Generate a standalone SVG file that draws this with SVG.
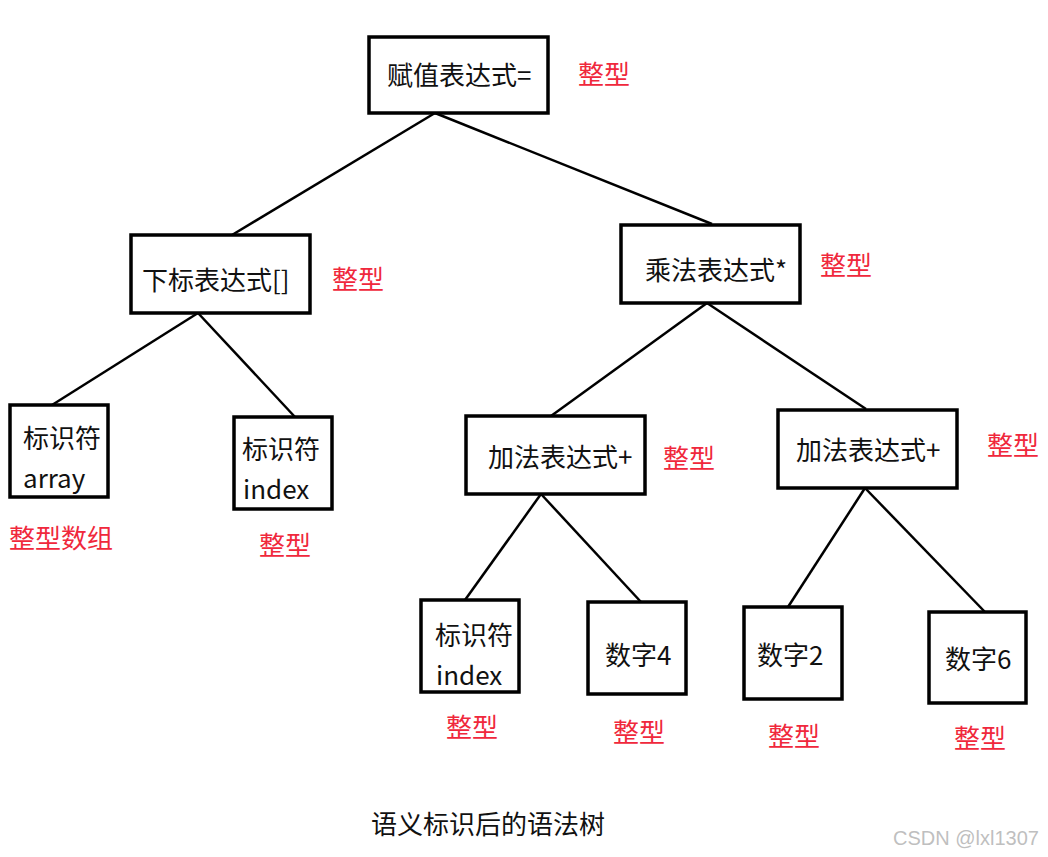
<svg xmlns="http://www.w3.org/2000/svg" width="1048" height="857" viewBox="0 0 1048 857">
<style>
.box{fill:#fff;stroke:#000;stroke-width:3.5}
.t{font-family:"Noto Sans CJK SC","Noto Sans",sans-serif;font-size:26px;fill:#111}
.r{font-family:"Noto Sans CJK SC","Noto Sans",sans-serif;font-size:26px;fill:#f0283c}
.c{stroke:#000;stroke-width:2.5;fill:none}
.w{font-family:"Liberation Sans",sans-serif;font-size:20px;fill:#bfbfbf}
</style>
<rect width="1048" height="857" fill="#fff"/>
<g id="connectors">
<line class="c" x1="435" y1="113" x2="232" y2="235"/>
<line class="c" x1="435" y1="113" x2="712" y2="224"/>
<line class="c" x1="198" y1="313" x2="52" y2="405"/>
<line class="c" x1="198" y1="313" x2="295" y2="417"/>
<line class="c" x1="707" y1="303" x2="551" y2="416"/>
<line class="c" x1="707" y1="303" x2="866" y2="409"/>
<line class="c" x1="541" y1="494" x2="465" y2="600"/>
<line class="c" x1="541" y1="494" x2="641" y2="602"/>
<line class="c" x1="865" y1="488" x2="788" y2="607"/>
<line class="c" x1="865" y1="488" x2="985" y2="612"/>
</g>
<g id="n-root"><rect class="box" x="369" y="37" width="179" height="76"/><text class="t" x="387" y="85">赋值表达式=</text><text class="r" x="578" y="84">整型</text></g>
<g id="n-sub"><rect class="box" x="131" y="235" width="179" height="78"/><text class="t" x="142" y="290">下标表达式[]</text><text class="r" x="332" y="289">整型</text></g>
<g id="n-mul"><rect class="box" x="621" y="225" width="179" height="78"/><text class="t" x="645" y="280">乘法表达式*</text><text class="r" x="820" y="275">整型</text></g>
<g id="n-array"><rect class="box" x="10" y="405" width="98" height="92"/><text class="t" x="23" y="448">标识符</text><text class="t" x="23" y="488">array</text><text class="r" x="9" y="548">整型数组</text></g>
<g id="n-index1"><rect class="box" x="234" y="417" width="98" height="92"/><text class="t" x="242" y="459">标识符</text><text class="t" x="243" y="499">index</text><text class="r" x="259" y="555">整型</text></g>
<g id="n-add1"><rect class="box" x="466" y="416" width="179" height="78"/><text class="t" x="488" y="467">加法表达式+</text><text class="r" x="663" y="468">整型</text></g>
<g id="n-add2"><rect class="box" x="778" y="410" width="179" height="78"/><text class="t" x="796" y="460">加法表达式+</text><text class="r" x="987" y="455">整型</text></g>
<g id="n-index2"><rect class="box" x="421" y="600" width="98" height="92"/><text class="t" x="435" y="645">标识符</text><text class="t" x="436" y="685">index</text><text class="r" x="446" y="737">整型</text></g>
<g id="n-4"><rect class="box" x="588" y="602" width="98" height="92"/><text class="t" x="605" y="665">数字4</text><text class="r" x="613" y="742">整型</text></g>
<g id="n-2"><rect class="box" x="744" y="607" width="98" height="92"/><text class="t" x="757" y="665">数字2</text><text class="r" x="768" y="746">整型</text></g>
<g id="n-6"><rect class="box" x="929" y="612" width="97" height="91"/><text class="t" x="945" y="669">数字6</text><text class="r" x="954" y="748">整型</text></g>
<text class="t" x="371" y="834">语义标识后的语法树</text>
<text class="w" x="893" y="845">CSDN @lxl1307</text>
</svg>
